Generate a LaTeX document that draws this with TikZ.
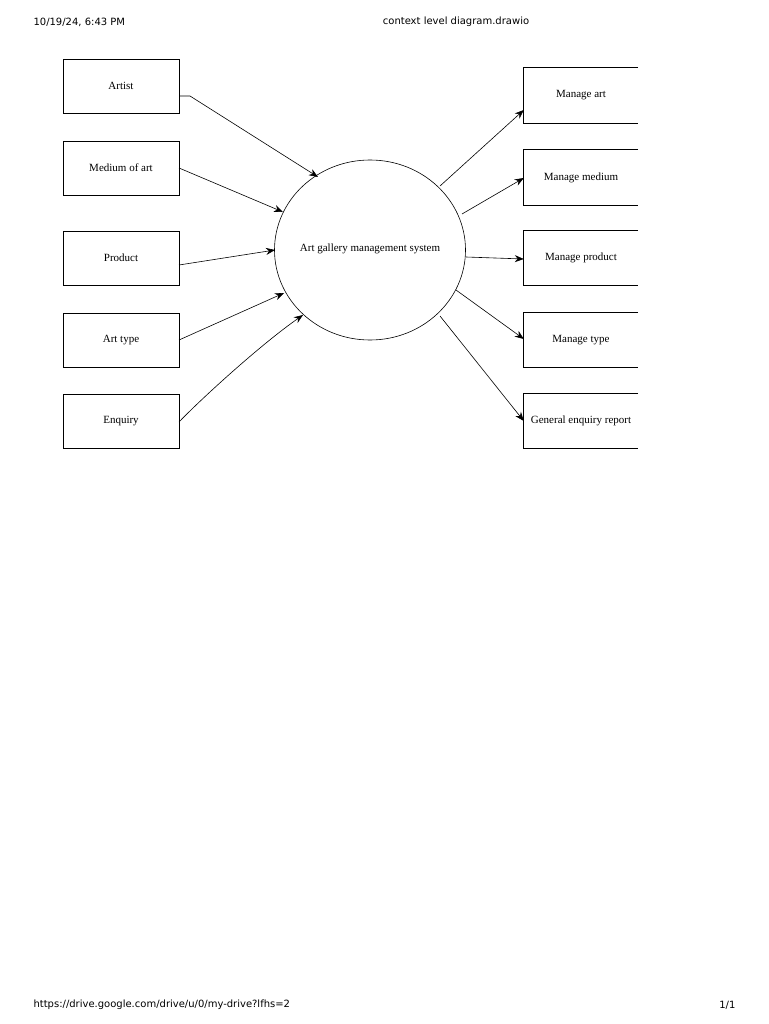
\documentclass[tikz,border=0pt]{standalone}
\usepackage{fontspec}
\setmainfont{Liberation Serif}
\newfontfamily\hdr{DejaVu Sans}
\usetikzlibrary{arrows.meta,shapes.geometric}
\begin{document}
\begin{tikzpicture}[x=1pt,y=-1pt,
  lbox/.style={draw,thick,minimum width=116pt,minimum height=54pt,inner sep=0pt,font=\fontsize{11}{13}\selectfont},
  rbox/.style={minimum width=114pt,minimum height=55pt,inner sep=0pt,font=\fontsize{11}{13}\selectfont},
  flow/.style={-{Stealth[length=9pt,width=7pt]},semithick},
  hd/.style={font=\hdr\fontsize{10}{12}\selectfont}]
\useasboundingbox[fill=white] (0,0) rectangle (768,1024);
\node[hd,anchor=west] (date) at (30,22) {10/19/24, 6:43 PM};
\node[hd] (ttl) at (456,22) {context level diagram.drawio};
\node[hd,anchor=west] (url) at (30,1005) {https://drive.google.com/drive/u/0/my-drive?lfhs=2};
\node[hd,anchor=east] (pg) at (739,1005) {1/1};
\node[lbox] (a) at (121,86) {Artist};
\node[lbox] (m) at (121,168) {Medium of art};
\node[lbox] (p) at (121,258) {Product};
\node[lbox] (t) at (121,340) {Art type};
\node[lbox] (e) at (121,421) {Enquiry};
\node[rbox] (ra) at (581,95.5) {Manage art};
\node[rbox] (rm) at (581,177.5) {Manage medium};
\node[rbox] (rp) at (581,258) {Manage product};
\node[rbox] (rt) at (581,340) {Manage type};
\node[rbox] (re) at (581,421) {General enquiry report};
\foreach \n in {ra,rm,rp,rt,re}{\draw[thick] (\n.north east) -- (\n.north west) -- (\n.south west) -- (\n.south east);}
\node[draw,semithick,ellipse,minimum width=191pt,minimum height=180pt,inner sep=0pt] (c) at (370,250) {};
\node[font=\fontsize{11}{13}\selectfont] (ct) at (370,249) {Art gallery management system};
\coordinate (ak) at (190,96);
\draw[flow] (a.east |- ak) -- (ak) -- (318,177);
\draw[flow] (179,168) -- (283,212);
\draw[flow] (179,265) -- (275,250);
\draw[flow] (179,340) -- (284,293);
\draw[flow] (179,422) .. controls (200,400) and (260,345) .. (303,315);
\draw[flow] (440,186) -- (ra.west |- 0,110);
\draw[flow] (462,214) -- (rm.west |- 0,178);
\draw[flow] (466,257) -- (rp.west |- 0,259);
\draw[flow] (456,290) -- (rt.west |- 0,339);
\draw[flow] (440,316) -- (re.west |- 0,421);
\end{tikzpicture}
\end{document}
